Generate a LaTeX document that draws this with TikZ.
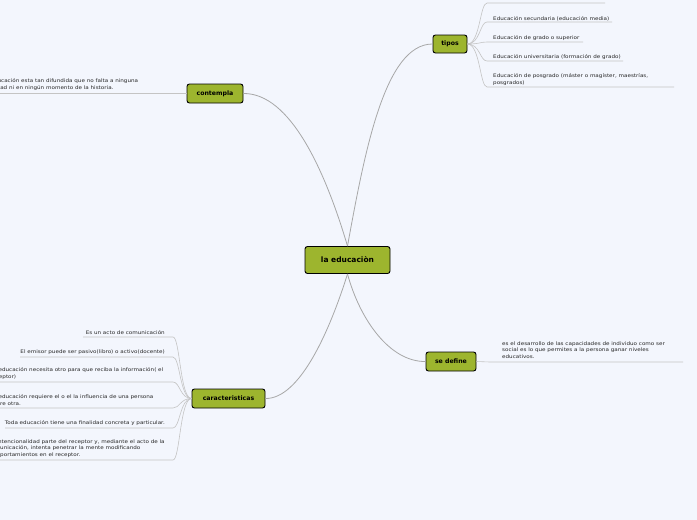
\documentclass[tikz,border=0pt]{standalone}
\usepackage{fontspec}
\setmainfont{DejaVu Sans}
\newfontfamily\itemfont[FakeStretch=1.15]{DejaVu Sans}
\definecolor{bg}{HTML}{F3F6FD}
\definecolor{olive}{HTML}{9DB52E}
\definecolor{ln}{HTML}{C4C4C4}
\begin{document}
\begin{tikzpicture}[x=1pt,y=-1pt,
  topic/.style={draw=black,line width=0.9pt,fill=olive,rounded corners=2.5pt,font=\bfseries\fontsize{6.2}{7}\selectfont,inner sep=0pt},
  item/.style={font=\itemfont\fontsize{4.9}{6.8}\selectfont,text=black!85,inner sep=1pt,align=left},
  con/.style={draw=ln,line width=0.6pt},
  br/.style={draw=ln!85!black,line width=0.8pt}]
\fill[bg] (0,0) rectangle (697,520);
\clip (0,0) rectangle (697,520);
\node[topic,minimum width=85pt,minimum height=27pt,font=\bfseries\fontsize{7.5}{9}\selectfont] (c) at (347.5,260) {la educaciòn};
\node[topic,minimum width=34pt,minimum height=18pt] (t) at (450,44) {tipos};
\node[topic,minimum width=56pt,minimum height=19pt] (k) at (215,93.5) {contempla};
\node[topic,minimum width=73pt,minimum height=19pt] (r) at (228.5,398.5) {caracteristicas};
\node[topic,minimum width=50pt,minimum height=19pt] (s) at (451,361.5) {se define};
% main branches
\draw[br] (c.north) .. controls (365,150) and (385,44) .. (t.west);
\draw[br] (c.north) .. controls (325,170) and (290,93) .. (k.east);
\draw[br] (c.south) .. controls (330,330) and (300,399) .. (r.east);
\draw[br] (c.south) .. controls (360,320) and (390,362) .. (s.west);
% tipos items
\foreach \n/\y/\xe/\txt in {t0/3/605/{},t1/22/612/{Educación secundaria (educación media)},t2/42/583/{Educación de grado o superior},t3/61/623/{Educación universitaria (formación de grado)},t4/87/674/{Educación de posgrado (máster o magíster, maestrías,\\posgrados)}}{
  \coordinate (\n a) at (487,\y); \coordinate (\n b) at (\xe,\y);
  \node[item,anchor=south west] (\n) at (492,\y) {\txt};
  \draw[con] (t.east) .. controls (480,44) and (480,\y) .. (\n a) -- (\n b);
}
% contempla item
\coordinate (ka) at (0,93); \coordinate (kb) at (187,93);
\node[item,anchor=south west] (ki) at (-19,92) {La educación esta tan difundida que no falta a ninguna\\sociedad ni en ningún momento de la historia.};
\draw[con] (ka) -- (kb);
% se define item
\coordinate (sa) at (490,362); \coordinate (sb) at (683,362);
\node[item,anchor=south west] (si) at (501,360) {es el desarrollo de las capacidades de individuo como ser\\social es lo que permites a la persona ganar niveles\\educativos.};
\draw[con] (s.east) -- (sa) -- (sb);
% caracteristicas items
\foreach \n/\y/\xs in {r1/337/83,r2/357/20,r3/382/0,r4/408/0,r5/428/5,r6/460/0}{
  \coordinate (\n a) at (173,\y); \coordinate (\n b) at (\xs,\y);
  \draw[con] (r.west) .. controls (180,398.5) and (180,\y) .. (\n a) -- (\n b);
}
\node[item,anchor=south east] (i1) at (166,336) {Es un acto de comunicación};
\node[item,anchor=south east] (i2) at (166,356) {El emisor puede ser pasivo(libro) o activo(docente)};
\node[item,anchor=south west] (i3) at (-11,381) {La educación necesita otro para que reciba la información( el\\receptor)};
\node[item,anchor=south west] (i4) at (-11,407) {La educación requiere el o el la influencia de una persona\\sobre otra.};
\node[item,anchor=south east] (i5) at (166,427) {Toda educación tiene una finalidad concreta y particular.};
\node[item,anchor=south west] (i6) at (-13,459) {La intencionalidad parte del receptor y, mediante el acto de la\\comunicación, intenta penetrar la mente modificando\\comportamientos en el receptor.};
\end{tikzpicture}
\end{document}
